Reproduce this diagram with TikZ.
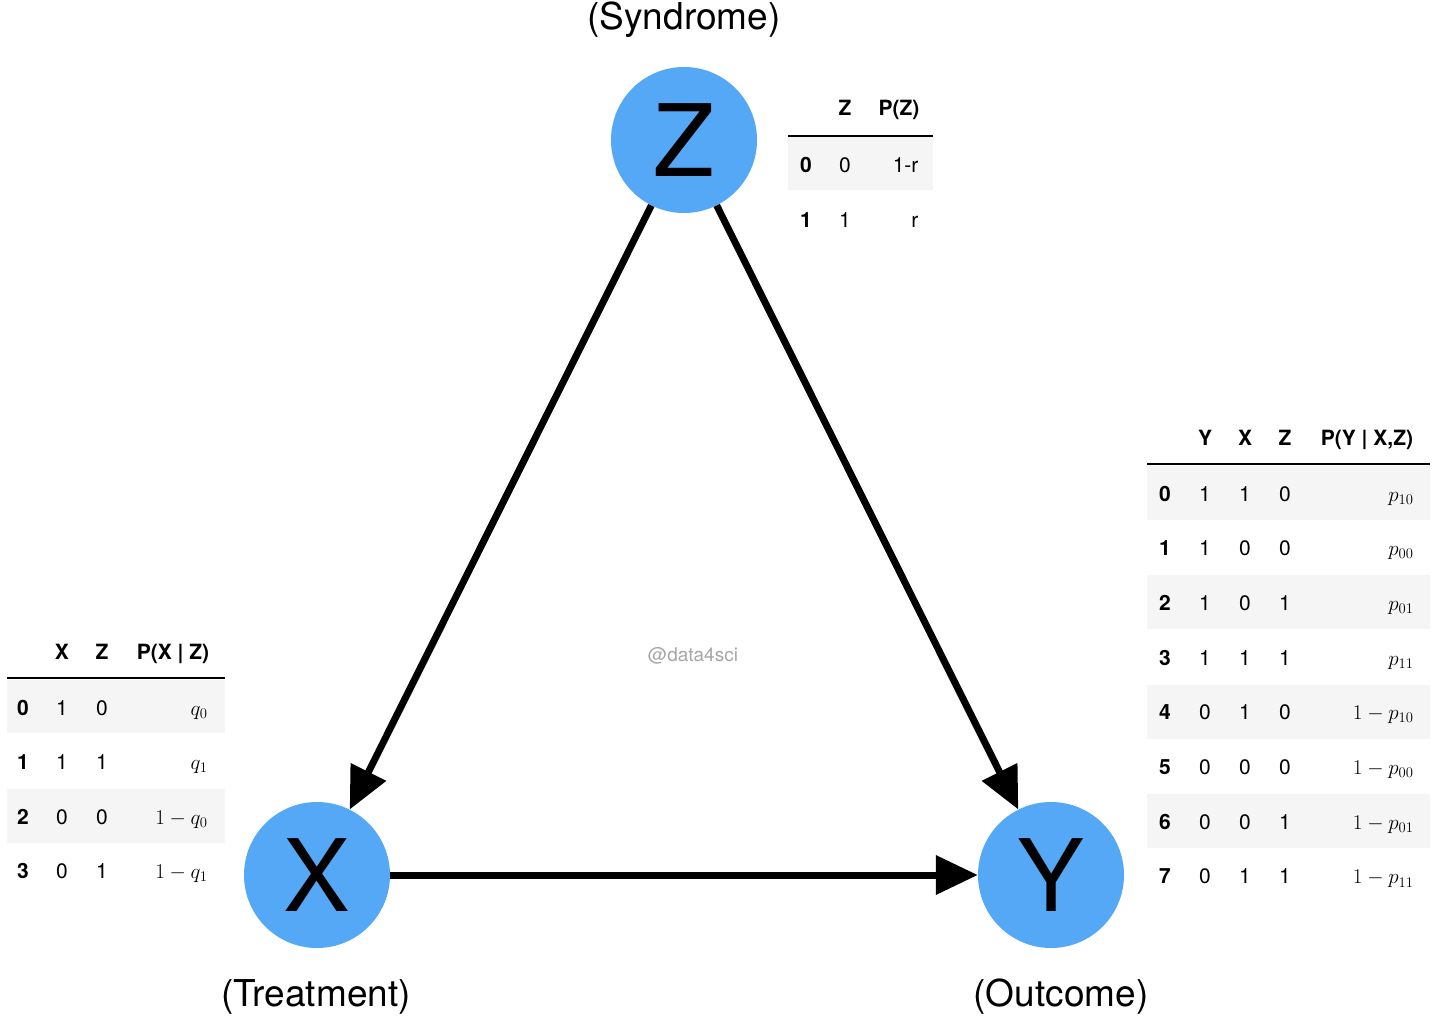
\documentclass[tikz,border=0pt]{standalone}
\usepackage{fix-cm}
\usepackage{fontspec}
\setmainfont{TeX Gyre Heros}
\usetikzlibrary{arrows.meta}
\definecolor{nodeblue}{HTML}{55A8F5}
\definecolor{rowgray}{HTML}{F5F5F5}
\begin{document}
\begin{tikzpicture}[x=1pt,y=-1pt,
  var/.style={circle,fill=nodeblue,minimum size=146pt,inner sep=0pt,font=\fontsize{100}{100}\selectfont},
  lbl/.style={font=\fontsize{37}{40}\selectfont},
  edge/.style={line width=7pt,-{Triangle[length=42pt,width=38pt]}},
  t/.style={font=\fontsize{21}{25}\selectfont,anchor=base},
  tb/.style={t,font=\fontsize{21}{25}\selectfont\bfseries},
  tr/.style={t,anchor=base east}]
\useasboundingbox (0,0) rectangle (1434,1022);
% nodes
\node[var] (Z) at (684,140) {Z};
\node[var] (X) at (317,875) {X};
\node[var] (Y) at (1051,875) {Y};
\node[lbl] (lz) at (684,20) {(Syndrome)};
\node[lbl] (lx) at (316,997) {(Treatment)};
\node[lbl] (ly) at (1061,997) {(Outcome)};
\draw[edge] (Z) -- (X);
\draw[edge] (Z) -- (Y);
\draw[edge] (X) -- (Y);
\node[text=black!35,font=\fontsize{19}{22}\selectfont] (wm) at (693,656) {@data4sci};
% Z table
\fill[rowgray] (788,137) rectangle (933,190);
\draw[line width=1.5pt] (788,136) -- (933,136);
\node[tb] at (845,116) {Z}; \node[tb] at (899,116) {P(Z)};
\node[tb] at (806,172) {0}; \node[t] at (845,172) {0}; \node[tr] at (922,172) {1-r};
\node[tb] at (806,227) {1}; \node[t] at (845,227) {1}; \node[tr] at (922,227) {r};
% X table
\fill[rowgray] (7,680) rectangle (225,733);
\fill[rowgray] (7,789) rectangle (225,843);
\draw[line width=1.5pt] (7,678) -- (225,678);
\node[tb] at (62,659) {X}; \node[tb] at (102,659) {Z}; \node[tb] at (173,659) {P(X | Z)};
\foreach \i/\a/\b/\p [count=\k from 0] in {0/1/0/{$q_0$},1/1/1/{$q_1$},2/0/0/{$1-q_0$},3/0/1/{$1-q_1$}}{
  \node[tb] at (23,715+54.5*\k) {\i};
  \node[t] at (62,715+54.5*\k) {\a};
  \node[t] at (102,715+54.5*\k) {\b};
  \node[tr] at (211,715+54.5*\k) {\p};
}
% Y table
\foreach \k in {0,2,4,6}{\fill[rowgray] (1147,466+54.7*\k) rectangle (1430,520+54.7*\k);}
\draw[line width=1.5pt] (1147,464) -- (1430,464);
\node[tb] at (1205,445) {Y}; \node[tb] at (1245,445) {X}; \node[tb] at (1285,445) {Z}; \node[tb] at (1367,445) {P(Y | X,Z)};
\foreach \i/\a/\b/\c/\p [count=\k from 0] in {0/1/1/0/{$p_{10}$},1/1/0/0/{$p_{00}$},2/1/0/1/{$p_{01}$},3/1/1/1/{$p_{11}$},4/0/1/0/{$1-p_{10}$},5/0/0/0/{$1-p_{00}$},6/0/0/1/{$1-p_{01}$},7/0/1/1/{$1-p_{11}$}}{
  \node[tb] at (1165,501+54.7*\k) {\i};
  \node[t] at (1205,501+54.7*\k) {\a};
  \node[t] at (1245,501+54.7*\k) {\b};
  \node[t] at (1285,501+54.7*\k) {\c};
  \node[tr] at (1417,501+54.7*\k) {\p};
}
\end{tikzpicture}
\end{document}
